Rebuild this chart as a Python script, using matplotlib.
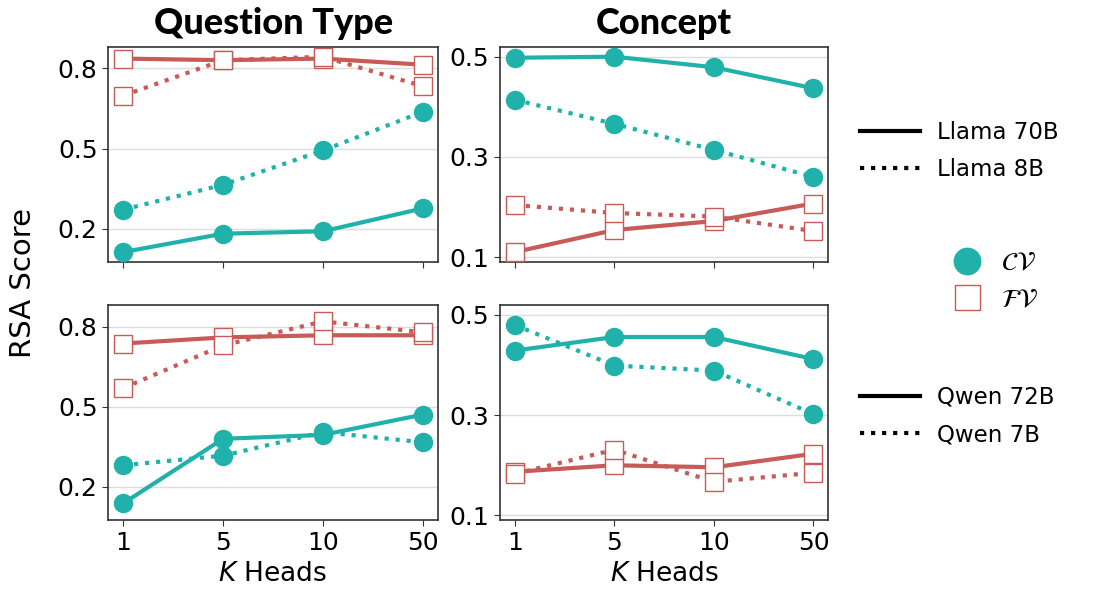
import matplotlib
matplotlib.use("Agg")
from matplotlib import pyplot as plt
from matplotlib.lines import Line2D

plt.rcParams['font.family'] = ['DejaVu Sans']

k_labels = ['1', '5', '10', '50']

# Question Type, Llama
qt_llama70_cv = [0.112, 0.181, 0.190, 0.276]
qt_llama70_fv = [0.837, 0.831, 0.837, 0.814]
qt_llama8_cv = [0.271, 0.364, 0.493, 0.638]
qt_llama8_fv = [0.698, 0.831, 0.844, 0.733]
# Concept, Llama
co_llama70_cv = [0.498, 0.500, 0.479, 0.437]
co_llama70_fv = [0.110, 0.154, 0.172, 0.207]
co_llama8_cv = [0.414, 0.366, 0.314, 0.260]
co_llama8_fv = [0.204, 0.188, 0.181, 0.152]
# Question Type, Qwen
qt_qwen72_cv = [0.138, 0.380, 0.395, 0.471]
qt_qwen72_fv = [0.737, 0.760, 0.768, 0.768]
qt_qwen7_cv = [0.281, 0.317, 0.405, 0.367]
qt_qwen7_fv = [0.570, 0.730, 0.820, 0.779]
# Concept, Qwen
co_qwen72_cv = [0.429, 0.456, 0.456, 0.412]
co_qwen72_fv = [0.187, 0.200, 0.196, 0.223]
co_qwen7_cv = [0.480, 0.399, 0.389, 0.302]
co_qwen7_fv = [0.183, 0.231, 0.167, 0.185]

teal = '#20b2aa'
red = '#c85a58'

fig = plt.figure(figsize=(11.06, 6.02), dpi=100)
axes = [[fig.add_axes([0.0977, 0.565, 0.2984, 0.357]), fig.add_axes([0.452, 0.565, 0.297, 0.357])],
        [fig.add_axes([0.0977, 0.136, 0.2984, 0.357]), fig.add_axes([0.452, 0.136, 0.297, 0.357])]]
axes[1][0].sharey(axes[0][0])
axes[1][1].sharey(axes[0][1])

panels = [
    [(qt_llama70_cv, qt_llama70_fv, qt_llama8_cv, qt_llama8_fv),
     (co_llama70_cv, co_llama70_fv, co_llama8_cv, co_llama8_fv)],
    [(qt_qwen72_cv, qt_qwen72_fv, qt_qwen7_cv, qt_qwen7_fv),
     (co_qwen72_cv, co_qwen72_fv, co_qwen7_cv, co_qwen7_fv)],
]

x = range(len(k_labels))
for r in range(2):
    for c in range(2):
        ax = axes[r][c]
        big_cv, big_fv, small_cv, small_fv = panels[r][c]
        ax.plot(x, big_fv, '-', color=red, lw=3, marker='s', ms=13,
                mfc='white', mec=red, mew=1.0, zorder=3)
        ax.plot(x, small_fv, ':', color=red, lw=3, marker='s', ms=13,
                mfc='white', mec=red, mew=1.0, zorder=3)
        ax.plot(x, big_cv, '-', color=teal, lw=3, marker='o', ms=13, zorder=4)
        ax.plot(x, small_cv, ':', color=teal, lw=3, marker='o', ms=13, zorder=4)
        ax.set_xticks(list(x))
        ax.grid(axis='y', color='#dddddd', lw=1)
        ax.set_axisbelow(True)
        for s in ax.spines.values():
            s.set_color('#333333')
            s.set_linewidth(1.2)
        ax.tick_params(labelsize=18, color='#333333', length=4)
        if r == 0:
            ax.tick_params(labelbottom=False)
        else:
            ax.set_xticklabels(k_labels)
            ax.set_xlabel('$K$ Heads', fontsize=19, labelpad=5)
        if c == 0:
            ax.set_yticks([0.2, 0.5, 0.8])
        else:
            ax.set_yticks([0.1, 0.3, 0.5])

axes[0][0].set_title('Question Type', fontsize=26, fontweight='black', family='Lato', pad=9)
axes[0][1].set_title('Concept', fontsize=26, fontweight='black', family='Lato', pad=9)
fig.text(0.021, 0.53, 'RSA Score', rotation=90, fontsize=21, va='center', ha='center')

llama_h = [Line2D([], [], color='black', lw=3, ls='-'), Line2D([], [], color='black', lw=3, ls=':')]
qwen_h = [Line2D([], [], color='black', lw=3, ls='-'), Line2D([], [], color='black', lw=3, ls=':')]
mark_h = [Line2D([], [], ls='', marker='o', ms=19, color=teal),
          Line2D([], [], ls='', marker='s', ms=18, mfc='white', mec=red, mew=1.0)]

leg1 = fig.legend(llama_h, ['Llama 70B', 'Llama 8B'], loc='center left',
                  bbox_to_anchor=(0.759, 0.749), frameon=False, fontsize=16.5,
                  handlelength=2.6, handletextpad=0.75, labelspacing=0.6)
leg2 = fig.legend(mark_h, [r'$\mathcal{CV}$', r'$\mathcal{FV}$'], loc='center left',
                  bbox_to_anchor=(0.841, 0.533), frameon=False, fontsize=19,
                  handlelength=1.0, handletextpad=0.8, labelspacing=0.4)
leg3 = fig.legend(qwen_h, ['Qwen 72B', 'Qwen 7B'], loc='center left',
                  bbox_to_anchor=(0.759, 0.309), frameon=False, fontsize=16.5,
                  handlelength=2.6, handletextpad=0.75, labelspacing=0.65)

fig.savefig('out.png', dpi=100)
